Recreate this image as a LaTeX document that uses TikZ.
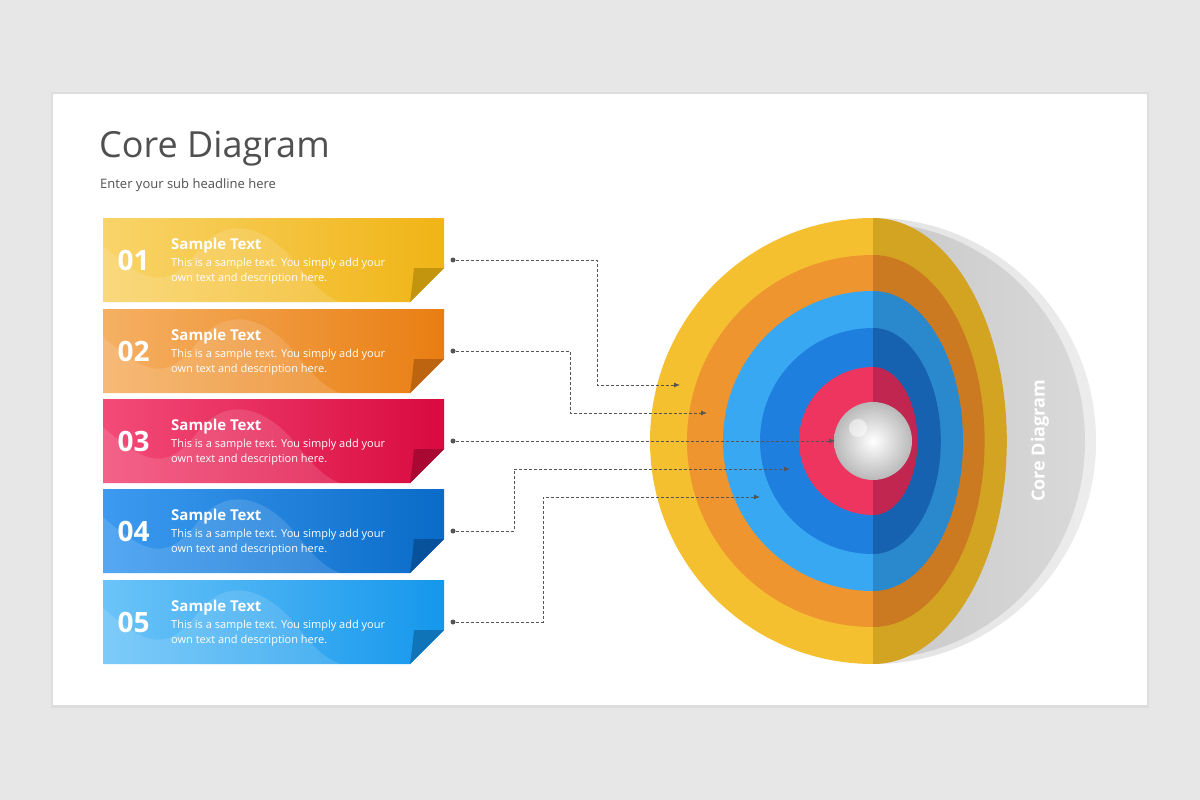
\documentclass[tikz,border=0pt]{standalone}
\usepackage{fontspec}
\setmainfont{Open Sans}
\usetikzlibrary{arrows.meta}
\definecolor{bg}{HTML}{E8E7E8}
\definecolor{ttl}{HTML}{505050}
\definecolor{conn}{HTML}{555555}
\definecolor{aL}{HTML}{F9D46A}\definecolor{aR}{HTML}{F0B415}\definecolor{aF}{HTML}{C3950F}
\definecolor{bL}{HTML}{F5B063}\definecolor{bR}{HTML}{E97E12}\definecolor{bF}{HTML}{BC6410}
\definecolor{cL}{HTML}{F34B78}\definecolor{cR}{HTML}{D90A3F}\definecolor{cF}{HTML}{A90833}
\definecolor{dL}{HTML}{3C9BF0}\definecolor{dR}{HTML}{0A6BC8}\definecolor{dF}{HTML}{08529B}
\definecolor{eL}{HTML}{6BC4F8}\definecolor{eR}{HTML}{1597EC}\definecolor{eF}{HTML}{1075B8}
\definecolor{l1}{HTML}{F4C030}\definecolor{l1d}{HTML}{D3A322}
\definecolor{l2}{HTML}{EF9530}\definecolor{l2d}{HTML}{CC7A22}
\definecolor{l3}{HTML}{38A8F2}\definecolor{l3d}{HTML}{2A88CC}
\definecolor{l4}{HTML}{1E7FDF}\definecolor{l4d}{HTML}{1762B0}
\definecolor{l5}{HTML}{EE3560}\definecolor{l5d}{HTML}{C02650}
\tikzset{
  numtxt/.style={text=white,font=\bfseries\fontsize{28}{30}\selectfont,anchor=west},
  headtxt/.style={text=white,font=\bfseries\fontsize{15}{17}\selectfont,anchor=base west,inner sep=0},
  desctxt/.style={text=white,font=\fontsize{11}{14.5}\selectfont,anchor=north west,align=left,inner sep=0},
  dotn/.style={circle,fill=conn,inner sep=0,minimum size=5pt},
  conline/.style={conn,densely dashed,line width=0.9pt,-{Latex[length=6pt,width=5pt]}},
}
\begin{document}
\begin{tikzpicture}[x=1pt,y=-1pt]
\useasboundingbox (0,0) rectangle (1200,800);
\fill[bg] (0,0) rectangle (1200,800);
\fill[black,opacity=0.04] (51,92) rectangle (1149,708);
\fill[white] (53,94) rectangle (1147,705);
\node[anchor=base west,inner sep=0,text=ttl,font=\fontsize{36}{40}\selectfont] (title) at (99,157) {Core Diagram};
\node[anchor=base west,inner sep=0,text=ttl,font=\fontsize{13}{15}\selectfont] (sub) at (100,188) {Enter your sub headline here};
% boxes
\foreach \i/\y/\c in {1/218/a,2/309/b,3/399/c,4/489/d,5/580/e}{
  \shade[left color=\c L,right color=\c R] (103,\y) -- (444,\y) -- (444,\y+50) -- (410,\y+84) -- (103,\y+84) -- cycle;
  \fill[white,opacity=0.13] (103,\y+28) .. controls (150,\y+70) and (170,\y+70) .. (200,\y+30)
     .. controls (230,\y-5) and (270,\y+10) .. (300,\y+50) .. controls (320,\y+75) and (330,\y+80) .. (340,\y+84) -- (103,\y+84) -- cycle;
  \fill[\c F] (414,\y+50) -- (444,\y+50) -- (410,\y+84) .. controls (412,\y+70) .. (414,\y+50) -- cycle;
  \node[numtxt] (n\i) at (114,\y+42) {0\i};
  \node[headtxt] (h\i) at (171,\y+31) {Sample Text};
  \node[desctxt] (d\i) at (171,\y+40) {This is a sample text. You simply add your\\own text and description here.};
  \node[dotn] (p\i) at (453,\y+42) {};
}
% sphere (right gray half)
\begin{scope}
\clip (873,200) rectangle (1120,680);
\shade[left color=gray!45,right color=gray!22] (873,441) circle[radius=223];
\fill[white,opacity=0.35] (873,441) circle[radius=223];
\shade[left color=gray!55,right color=gray!30] (873,441) ellipse[x radius=212,y radius=218];
\end{scope}
\foreach \r/\k in {223/1,186/2,150/3,113/4,74/5}{
  \begin{scope}
  \clip (600,200) rectangle (873,680);
  \fill[l\k] (873,441) circle[radius=\r];
  \end{scope}
  \begin{scope}
  \clip (873,200) rectangle (1120,680);
  \fill[l\k d] (873,441) ellipse[x radius=0.6*\r,y radius=\r];
  \end{scope}
}
\shade[inner color=white,outer color=gray!55] (873,441) circle[radius=39];
\fill[white,opacity=0.5] (858,428) circle[radius=9];
\node[rotate=90,text=white,font=\bfseries\fontsize{18}{20}\selectfont] (cd) at (1040,441) {Core Diagram};
\coordinate (t1) at (680,385);
\coordinate (t2) at (707,413);
\coordinate (t3) at (835,441);
\coordinate (t4) at (790,469);
\coordinate (t5) at (760,497);
\draw[conline] (p1) -- (597,260) -- (597,385) -- (t1);
\draw[conline] (p2) -- (570,351) -- (570,413) -- (t2);
\draw[conline] (p3) -- (t3);
\draw[conline] (p4) -- (514,531) -- (514,469) -- (t4);
\draw[conline] (p5) -- (543,622) -- (543,497) -- (t5);
\end{tikzpicture}
\end{document}
